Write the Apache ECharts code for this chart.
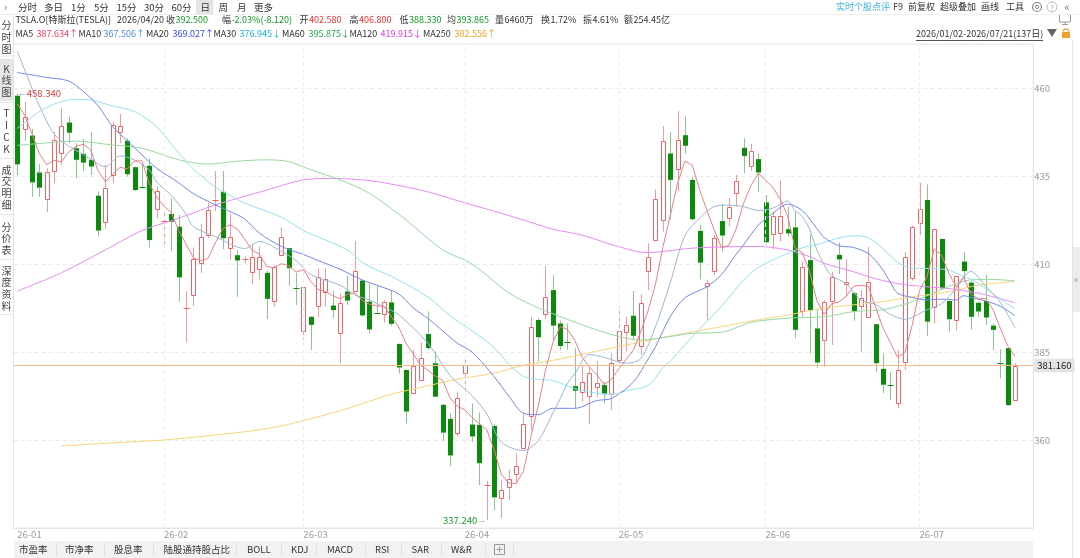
<!DOCTYPE html>
<html><head><meta charset="utf-8">
<script src="https://cdn.jsdelivr.net/npm/echarts@6/dist/echarts.min.js"></script>
<style>html,body{margin:0;padding:0;background:#fff;}#c{width:1080px;height:558px;}</style>
</head><body><div id="c"></div>
<script>
// ---------------- data ----------------
const opens = [457.8,448.2,446.5,436.0,428.2,436.2,441.5,450.2,442.9,441.3,
439.6,429.4,421.8,435.3,447.6,445.0,437.5,431.9,437.9,425.5,
421.8,424.2,420.6,397.2,401.1,410.2,418.2,428.1,430.5,414.5,
412.5,411.3,407.5,408.5,407.5,399.6,412.5,414.5,403.1,390.8,
395.0,398.1,401.9,398.2,390.3,402.2,402.4,405.3,399.3,396.2,
396.0,399.1,387.3,379.9,373.3,376.9,390.1,381.8,370.0,366.0,
361.9,378.9,364.4,364.3,346.9,364.0,343.4,346.6,350.4,357.8,
366.8,394.1,395.8,402.58,393.1,387.9,375.3,373.7,372.5,375.0,
375.6,373.1,382.7,390.6,395.3,386.7,407.8,416.8,422.5,441.4,
436.9,446.6,433.9,419.4,403.9,408.0,422.2,423.2,430.4,443.0,
437.8,439.8,427.5,418.5,419.0,419.9,420.4,396.5,411.1,391.7,
388.6,399.6,412.6,404.5,401.7,398.2,395.0,392.9,380.2,375.5,
370.4,382.1,406.2,421.5,428.2,397.7,417.1,399.5,394.1,410.7,
404.7,399.0,399.5,392.5,381.9,386.1,371.4];
const closes = [438.3,451.7,433.2,431.7,436.0,445.1,449.1,447.3,439.6,438.8,
437.7,419.5,431.5,449.4,449.2,435.5,431.0,431.6,416.8,430.6,
422.1,422.0,406.2,397.4,411.4,417.6,425.4,428.3,417.3,417.6,
411.0,411.5,411.9,411.9,400.1,409.2,417.6,408.8,402.9,403.4,
392.7,406.2,405.7,396.9,398.8,399.6,408.0,395.4,391.4,396.0,
399.3,393.0,380.6,368.1,381.0,383.2,386.1,372.3,362.1,355.6,
371.8,381.3,361.0,353.4,347.1,343.7,345.8,349.0,352.6,364.6,
392.0,389.2,400.7,392.5,386.7,387.7,374.0,376.4,378.9,376.1,
373.1,381.8,391.0,392.7,389.6,398.8,411.9,428.4,445.0,433.9,
445.2,443.6,422.7,410.4,404.7,417.3,418.1,426.2,433.7,440.7,
442.2,436.0,416.2,423.7,423.7,418.7,391.3,409.1,396.9,382.0,
399.3,406.4,411.3,405.0,396.6,400.4,405.0,381.8,375.7,375.4,
379.8,411.9,420.6,425.5,393.6,419.9,403.1,394.3,406.7,408.0,
395.0,396.5,394.8,391.3,381.6,369.9,381.16];
const lows = [435.3,444.9,429.1,429.1,424.7,432.9,438.1,444.3,434.3,436.4,
435.3,417.8,419.9,432.9,444.3,434.8,430.8,431.4,414.7,423.0,
414.7,413.8,399.3,387.7,398.1,407.5,417.3,425.0,414.2,411.1,
400.7,410.2,404.3,405.6,394.3,397.9,412.4,403.8,398.4,388.4,
385.6,394.9,397.9,394.6,381.8,398.4,402.3,395.0,390.3,395.8,
393.3,392.4,378.9,364.7,373.2,376.8,385.6,372.2,359.8,352.6,
361.1,374.2,359.5,347.2,337.24,340.1,337.8,342.9,347.7,357.4,
362.8,382.3,394.4,388.33,385.6,385.6,369.0,370.9,364.5,372.3,
370.4,368.5,381.8,385.1,388.4,384.2,402.6,416.7,419.2,422.7,
430.6,441.4,422.5,405.6,394.1,406.9,413.5,420.7,426.3,435.8,
436.5,430.5,415.9,414.2,416.4,417.8,388.9,395.0,384.6,380.5,
380.8,387.0,407.2,400.7,393.9,385.1,395.0,379.4,373.3,371.4,
369.0,379.9,405.3,418.2,389.6,393.1,402.7,390.8,391.1,405.0,
391.4,395.0,392.7,385.6,377.5,369.7,371.2];
const highs = [458.34,456.0,448.4,438.4,437.2,447.5,454.2,451.9,444.3,445.5,
447.5,430.6,438.1,450.4,452.6,445.7,437.7,438.4,440.0,432.0,
424.4,428.7,423.9,402.3,414.7,421.4,427.4,436.4,436.4,424.2,
414.0,412.3,415.4,414.9,408.0,409.7,420.4,414.6,407.4,403.6,
395.1,408.7,408.8,402.4,401.7,406.6,416.5,405.4,404.5,404.0,
399.8,402.6,387.4,380.0,385.6,387.7,396.5,385.1,370.1,367.6,
373.7,383.2,370.4,367.8,348.4,364.6,348.6,351.5,356.2,367.6,
395.0,394.6,409.4,406.8,393.9,393.1,386.0,381.3,380.8,382.4,
376.6,384.6,397.9,395.0,402.3,401.4,415.9,431.2,449.2,447.6,
453.5,452.0,434.8,421.1,405.5,418.2,427.1,428.7,435.3,445.7,
444.1,441.3,429.6,424.9,433.7,426.3,424.9,410.7,418.4,397.1,
399.8,407.8,416.1,411.3,402.0,402.6,414.9,393.0,384.6,379.4,
385.5,413.5,421.0,433.1,432.6,420.1,417.2,399.6,406.8,413.3,
405.2,399.3,406.9,393.1,385.8,386.2,381.8];

const ma5 = [455.5,452.3,447.0,441.4,438.2,439.5,439.0,441.8,443.4,444.0,
442.5,436.6,433.4,435.4,437.5,437.0,439.3,439.3,432.8,429.1,
426.4,424.6,419.5,415.7,411.8,410.9,411.6,416.0,420.0,421.2,
419.9,417.1,413.9,412.8,409.3,408.9,410.1,409.5,407.7,408.4,
405.1,402.8,402.2,401.0,400.1,401.4,401.8,399.7,398.6,398.1,
398.0,395.0,392.1,387.4,384.4,381.2,379.8,378.1,376.9,371.9,
369.6,368.6,366.4,364.6,362.9,357.3,350.2,347.8,347.6,351.1,
360.8,369.5,379.8,387.6,392.2,391.4,388.3,383.5,380.7,378.6,
375.7,377.3,380.2,382.9,385.6,390.8,396.8,404.3,414.7,423.6,
432.9,439.2,438.1,431.2,425.3,419.7,414.6,415.3,420.0,427.2,
432.2,435.8,433.8,431.8,428.4,423.7,414.7,413.3,407.9,399.6,
395.7,398.7,399.2,400.8,403.7,403.9,403.7,397.8,391.9,387.7,
383.5,384.9,392.7,402.6,406.3,414.3,412.5,407.3,403.5,406.4,
401.4,400.1,400.2,397.1,391.8,386.8,383.8];
const ma10 = [[0,470.5],[2,460],[3,455],[5,447],[7,443.5],[9,441.1],[10,439.8],[12,437.6],[14,440.7],[16,439.5],[18,436.7],[19,433.3],[21,429.5],[23,424.2],[24,420.6],[27,417.8],[31,414.4],[33,416.4],[36,413.6],[38,411],[40,407],[44,404],[46,401.2],[48,399.8],[50,397.8],[52,395.6],[56,387.4],[59,378.3],[62,372.6],[64,367.4],[66,359.4],[69,357],[71,359.8],[73,367.6],[74,371.7],[75,376.1],[76,378.9],[78,384.3],[80,383.5],[83,381.8],[85,383.2],[87,392.2],[89,404.6],[91,418],[93,423],[95,426.3],[97,426.7],[99,426.3],[101,425.2],[103,425.9],[105,427.9],[106,425.2],[107,423.5],[108,419.9],[109,414],[110,409.7],[111,406.7],[113,404.4],[115,399.8],[117,398.5],[119,395.7],[121,394.3],[124,397],[126,398.7],[128,403.1],[130,407.9],[132,403.7],[134,399.1],[136,391.9]];
const ma20 = [[0,464.4],[4,463],[7,462],[9,459],[11,455],[13,449],[15,445],[17,441],[19,437.2],[22,433.1],[24,430],[27,426.8],[29,424.9],[31,422.8],[33,418.8],[36,415],[39,412.7],[41,411],[44,408.5],[47,405.5],[49,404],[52,401.5],[54,397.5],[56,394.5],[58,391],[60,387.5],[62,385],[65,378],[67,372.5],[69,367.6],[71,367.2],[73,369],[76,369],[79,371.2],[81,371.8],[84,376.5],[86,383],[87,386.5],[89,395],[91,400.4],[94,403.5],[96,407],[98,412.8],[99,415.4],[101,421],[103,424.4],[105,427],[107,425.2],[109,420.1],[110,417.5],[112,415.2],[114,414.7],[116,413],[117,411],[118,408.3],[119,404.8],[120,401.7],[122,400.5],[124,399.8],[126,400],[128,399.8],[129,401],[130,400.5],[132,399.5],[134,398],[136,395.3]];
const ma30 = [[0,448.5],[4,454.5],[8,456.8],[10,456.6],[13,454.9],[16,453.3],[19,449],[22,441.5],[24,437],[27,431.8],[29,429.5],[31,427.3],[36,423.3],[39,419.5],[45,414],[47,410.5],[49,408.3],[51,406.5],[56,400.6],[59,395.3],[62,391],[65,386.3],[67,381.5],[69,378.1],[71,377.2],[73,376.9],[76,374.6],[79,373.3],[81,373],[83,374],[86,375.5],[88,380.5],[89,382.4],[91,387],[93,391.5],[96,398],[99,405.4],[101,409],[104,412.1],[107,414.6],[109,415.5],[112,417.4],[114,418],[116,417.5],[118,414.4],[120,410.5],[122,408.8],[125,408.7],[127,408.2],[129,406.5],[131,404.5],[134,400],[136,397.3]];
const ma60 = [[0,443.7],[4,444.4],[8,444.9],[13,443.8],[17,442.9],[22,439.6],[26,438.4],[30,439.2],[34,439.6],[37,439.1],[40,436.8],[44,433.9],[48,430.1],[53,422.5],[58,414],[62,410],[67,401.8],[71,397.5],[73,395.9],[77,392.7],[82,389.4],[85,388.4],[89,389.4],[92,390.3],[96,390.6],[100,393.4],[105,394.6],[110,395],[114,396.5],[118,397],[122,399.3],[127,403.6],[130,405.5],[133,405.6],[136,405.2]];
const ma120 = [[0,402.3],[6,407.5],[12,414],[17,419.5],[21,422.3],[24,424.5],[27,426.8],[34,431],[39,433.9],[43,434.3],[48,433.7],[55,431],[60,428],[65,425],[69,422.5],[73,419.9],[77,418.2],[82,414.9],[86,413.2],[89,413.8],[92,414.5],[97,414.9],[101,415],[105,414],[108,412.1],[110,410.2],[114,407.8],[117,405.8],[121,404.1],[127,403],[131,401.7],[136,399]];
const ma250 = [[6,358.3],[13,359.2],[20,360],[26,361.2],[32,362.6],[36,364],[39,365.5],[44,368.3],[47,370.3],[51,373],[56,375.4],[60,377.3],[65,379],[69,381.2],[73,382.6],[78,384.8],[82,386.5],[86,388.3],[91,390.3],[96,392.2],[100,393.8],[105,395.5],[110,397.5],[114,398.4],[118,399.3],[122,400.7],[127,402.1],[131,404],[136,405]];

const monthStarts = [0,20,39,61,82,102,123];
const monthLabels = ['26-01','26-02','26-03','26-04','26-05','26-06','26-07'];
const yTicks = [360,385,410,435,460];
const lastPrice = 381.16;
const highMark = [0, 458.34];
const lowMark = [64, 337.24];

// ---------------- chart ----------------
const FONT = '"Microsoft YaHei","Noto Sans CJK SC","Noto Sans",sans-serif';
const FS = 9;
const AFS = 9.5;
const GREEN_T = '#119a24', RED_T = '#e8302c';
const categories = closes.map((_, i) => String(i)).concat(['pad1','pad2']);
const candleData = closes.map((c, i) => [i, opens[i], c, lows[i], highs[i]]);

function renderCandle(params, api) {
  const i = api.value(0), o = api.value(1), c = api.value(2), l = api.value(3), h = api.value(4);
  const po = api.coord([i, o]), pc = api.coord([i, c]), pl = api.coord([i, l]), ph = api.coord([i, h]);
  const cx = Math.round(po[0]);
  const xl = cx + 0.5;
  const up = c >= o;
  const top = Math.min(po[1], pc[1]), bot = Math.max(po[1], pc[1]);
  const wick = up ? '#f29b9b' : '#86cb86';
  const kids = [];
  kids.push({type:'line', shape:{x1:xl, y1:ph[1], x2:xl, y2:top}, style:{stroke:wick, lineWidth:1}});
  kids.push({type:'line', shape:{x1:xl, y1:bot, x2:xl, y2:pl[1]}, style:{stroke:wick, lineWidth:1}});
  if (bot - top < 1.5) {
    kids.push({type:'line', shape:{x1:cx-2.5, y1:Math.round(top)+0.5, x2:cx+3.5, y2:Math.round(top)+0.5}, style:{stroke: up ? '#ee5c5c' : '#0b8a0b', lineWidth:1}});
  } else if (up) {
    kids.push({type:'rect', shape:{x:cx-2+0.5, y:Math.round(top)+0.5, width:4, height:Math.round(bot-top)}, style:{fill:'#fff', stroke:'#ee6363', lineWidth:1}});
  } else {
    kids.push({type:'rect', shape:{x:cx-2, y:top, width:5, height:bot-top}, style:{fill:'#0b8a0b'}});
  }
  return {type:'group', children:kids};
}

function T(x, y, text, fill, size, align) {
  return {type:'text', x:x, y:y, silent:true, z:50,
    style:{text:text, fill:fill || '#333', fontSize:size || FS, fontFamily:FONT, verticalAlign:'middle', align:align || 'left'}};
}
function R(x, y, w, h, fill, stroke) {
  return {type:'rect', silent:true, z:40, shape:{x:x, y:y, width:w, height:h}, style:{fill:fill || 'none', stroke:stroke || null, lineWidth:1}};
}
function L(x1, y1, x2, y2, color) {
  return {type:'line', silent:true, z:41, shape:{x1:x1, y1:y1, x2:x2, y2:y2}, style:{stroke:color || '#e6e6e6', lineWidth:1}};
}

const els = [];
// row 1
els.push(L(0, 14.5, 1080, 14.5, '#efefef'));
els.push(T(4, 7, '›', '#777', 11));
els.push(R(196, 0, 17.5, 14, '#e4e4e4'));
[[18,'分时'],[44,'多日'],[71,'1分'],[94,'5分'],[116.5,'15分'],[144,'30分'],[171.5,'60分'],[200.5,'日'],[218.5,'周'],[237,'月'],[254,'更多']]
  .forEach(p => els.push(T(p[0], 7, p[1], '#333', 9.5)));
els.push(T(836, 7, '实时个股点评', '#3bb2d6'));
[[893,'F9'],[908,'前复权'],[940,'超级叠加'],[981,'画线'],[1006,'工具']].forEach(p => els.push(T(p[0], 7, p[1])));
els.push({type:'circle', silent:true, z:40, shape:{cx:1037, cy:7, r:4.5}, style:{fill:'none', stroke:'#888', lineWidth:1.2}});
els.push({type:'circle', silent:true, z:40, shape:{cx:1037, cy:7, r:1.6}, style:{fill:'none', stroke:'#888', lineWidth:1}});
els.push({type:'circle', silent:true, z:40, shape:{cx:1052, cy:7, r:5}, style:{fill:'none', stroke:'#bbb', lineWidth:1}});
els.push(T(1052, 7.5, '?', '#aaa', 8, 'center'));
els.push(T(1067, 7, '«', '#777', 11, 'center'));
// row 2
const r2 = 20;
els.push(T(15.5, r2, 'TSLA.O[特斯拉(TESLA)]'));
els.push(T(117, r2, '2026/04/20'));
[[166,'收','392.500',GREEN_T],[222,'幅','-2.03%(-8.120)',GREEN_T],[299.6,'开','402.580',RED_T],[349.5,'高','406.800',RED_T],
 [399.4,'低','388.330',GREEN_T],[447,'均','393.865',GREEN_T],[495,'量','6460万','#333'],[541,'换','1.72%','#333'],
 [583,'振','4.61%','#333'],[624,'额','254.45亿','#333']].forEach(p => {
  els.push(T(p[0], r2, p[1]));
  els.push(T(p[0] + FS + 0.5, r2, p[2], p[3]));
});
els.push(R(1059.5, 14.5, 11, 7.5, 'none', '#999'));
els.push(L(1065, 22, 1065, 24.5, '#999'));
els.push(L(1062, 24.5, 1068, 24.5, '#999'));
// row 3
const r3 = 34;
[[15.5,36.5,'MA5','387.634↑','#ef3f58'],[78.5,103.5,'MA10','367.506↑','#4d8fd9'],[146,172.5,'MA20','369.027↑','#2c4cf6'],
 [213.5,239.5,'MA30','376.945↓','#16b7dc'],[282,308.5,'MA60','395.875↓','#27a846'],[349.5,380.5,'MA120','419.915↓','#e03ae6'],
 [423,454.5,'MA250','382.556↑','#f3a21a']].forEach(p => {
  els.push(T(p[0], r3, p[2]));
  els.push(T(p[1], r3, p[3], p[4]));
});
els.push(T(916, 33.5, '2026/01/02-2026/07/21(137日)'));
els.push(L(916, 40.5, 1043, 40.5, '#555'));
els.push({type:'polygon', silent:true, z:40, shape:{points:[[1047,29],[1057,29],[1052,37]]}, style:{fill:'#666'}});
els.push(R(1062, 32, 8, 6, '#f0a030'));
els.push({type:'arc', silent:true, z:40, shape:{cx:1066, cy:31.5, r:2.6, startAngle:Math.PI, endAngle:0}, style:{fill:'none', stroke:'#f0a030', lineWidth:1.4}});
// left sidebar
els.push(L(13.5, 14.5, 13.5, 528, '#e2e2e2'));
els.push(R(0, 58.7, 13, 42.5, '#e6e6e6'));
[[25.5,'分'],[37.5,'时'],[49,'图'],[69,'K'],[80.5,'线'],[92.5,'图'],[113,'T'],[125.5,'I'],[137,'C'],[149,'K'],
 [170,'成'],[181.7,'交'],[193.2,'明'],[205,'细'],[227,'分'],[238.7,'价'],[250.3,'表'],[271,'深'],[282.7,'度'],[294.2,'资'],[306,'料']]
  .forEach(p => els.push(T(6.5, p[0], p[1], '#444', 10, 'center')));
[56, 102.5, 158.5, 214.5, 259.5, 314.5].forEach(y => els.push(L(0, y, 13, y, '#e6e6e6')));
// right strip
els.push(L(1072.5, 40, 1072.5, 558, '#e4e4e4'));
els.push(R(1073, 247, 7, 65, '#ececec'));
els.push(T(1076.5, 280, '«', '#999', 9, 'center'));
// bottom tab bar
els.push(R(14, 541, 1019, 17, '#f2f2f2'));
[[19,'市盈率'],[65,'市净率'],[114,'股息率'],[163.6,'陆股通持股占比'],[247,'BOLL'],[291,'KDJ'],[327,'MACD'],[375,'RSI'],[411.5,'SAR'],[451,'W&R']]
  .forEach(p => els.push(T(p[0], 549.6, p[1], '#333', 9.5)));
[56, 104, 153, 236, 281, 316, 365, 401, 441, 485, 513].forEach(x => els.push(L(x + 0.5, 543, x + 0.5, 556, '#e2e2e2')));
els.push(R(494.5, 544.5, 10, 10, 'none', '#999'));
els.push(L(496.5, 549.5, 502.5, 549.5, '#999'));
els.push(L(499.5, 546.5, 499.5, 552.5, '#999'));

function maSeries(name, data, color, smooth, extra) {
  return Object.assign({name:name, type:'line', data:data, showSymbol:false, symbol:'none', smooth:smooth, z:4,
    lineStyle:{color:color, width:1}, itemStyle:{color:color}, silent:true, animation:false}, extra || {});
}

const option = {
  animation: false,
  backgroundColor: '#fff',
  grid: {left:13.6, top:44, width:1019.7, height:484, show:true, borderColor:'#e6e6e6', borderWidth:1, backgroundColor:'transparent'},
  xAxis: {type:'category', data:categories, boundaryGap:true,
    axisLine:{show:true, lineStyle:{color:'#e6e6e6'}}, axisTick:{show:false}, splitLine:{show:false},
    axisLabel:{interval:(idx) => monthStarts.indexOf(idx) >= 0,
      formatter:(v, idx) => { const k = monthStarts.indexOf(idx); return k >= 0 ? monthLabels[k] : ''; },
      align:'left', color:'#9a9a9a', fontSize:AFS, margin:2, fontFamily:FONT}},
  yAxis: {type:'value', position:'right', min:335, max:472.5, interval:25, scale:false,
    axisLine:{show:true, lineStyle:{color:'#e6e6e6'}}, axisTick:{show:false},
    splitLine:{show:true, lineStyle:{color:'#ebebeb', type:[4,3]}},
    axisLabel:{color:'#9a9a9a', fontSize:AFS, margin:1, fontFamily:FONT, showMaxLabel:false,
      formatter:(v) => yTicks.indexOf(v) >= 0 ? String(v) : ''}},
  graphic: {elements: els},
  series: [
    {type:'custom', name:'K', renderItem:renderCandle, data:candleData, encode:{x:0, y:[1,2,3,4]}, z:2, clip:true, silent:true, animation:false},
    maSeries('MA250', ma250, '#f8d47c', 0.3, {
      markLine:{silent:true, symbol:['none','none'], animation:false,
        lineStyle:{color:'#ebebeb', type:[4,3], width:1}, label:{show:false},
        data: monthStarts.slice(1).map(i => ({xAxis:i}))}}),
    maSeries('MA120', ma120, '#e68af3', 0.3),
    maSeries('MA60', ma60, '#96d9a0', 0.3, {
      markLine:{silent:true, symbol:['none','none'], animation:false,
        data:[{yAxis:lastPrice, lineStyle:{color:'#f7bb8c', type:'solid', width:1},
          label:{show:true, position:'end', distance:1, formatter:'381.160', color:'#222', fontSize:AFS, fontFamily:FONT,
            backgroundColor:'#e3e3e3', padding:[2,3,2,3]}}]}}),
    maSeries('MA30', ma30, '#93e2ee', 0.3),
    maSeries('MA20', ma20, '#7087f2', 0.3),
    maSeries('MA10', ma10, '#9bb6d8', 0.3),
    maSeries('MA5', ma5, '#f07d88', false, {
      markPoint:{silent:true, animation:false, symbol:'circle', symbolSize:1, itemStyle:{color:'rgba(0,0,0,0)'},
        data:[
          {coord:highMark, label:{show:true, position:'right', distance:0, formatter:'{a|←}{b|458.340}',
            rich:{a:{color:'#7d9cc4', fontSize:9}, b:{color:'#e23b3b', fontSize:AFS, fontFamily:FONT}}}},
          {coord:lowMark, label:{show:true, position:'left', distance:0, formatter:'{b|337.240}{a|→}',
            rich:{a:{color:'#7d9cc4', fontSize:9}, b:{color:'#1f9a2c', fontSize:AFS, fontFamily:FONT}}}}
        ]}})
  ]
};
const chart = echarts.init(document.getElementById('c'));
chart.setOption(option);
</script></body></html>
